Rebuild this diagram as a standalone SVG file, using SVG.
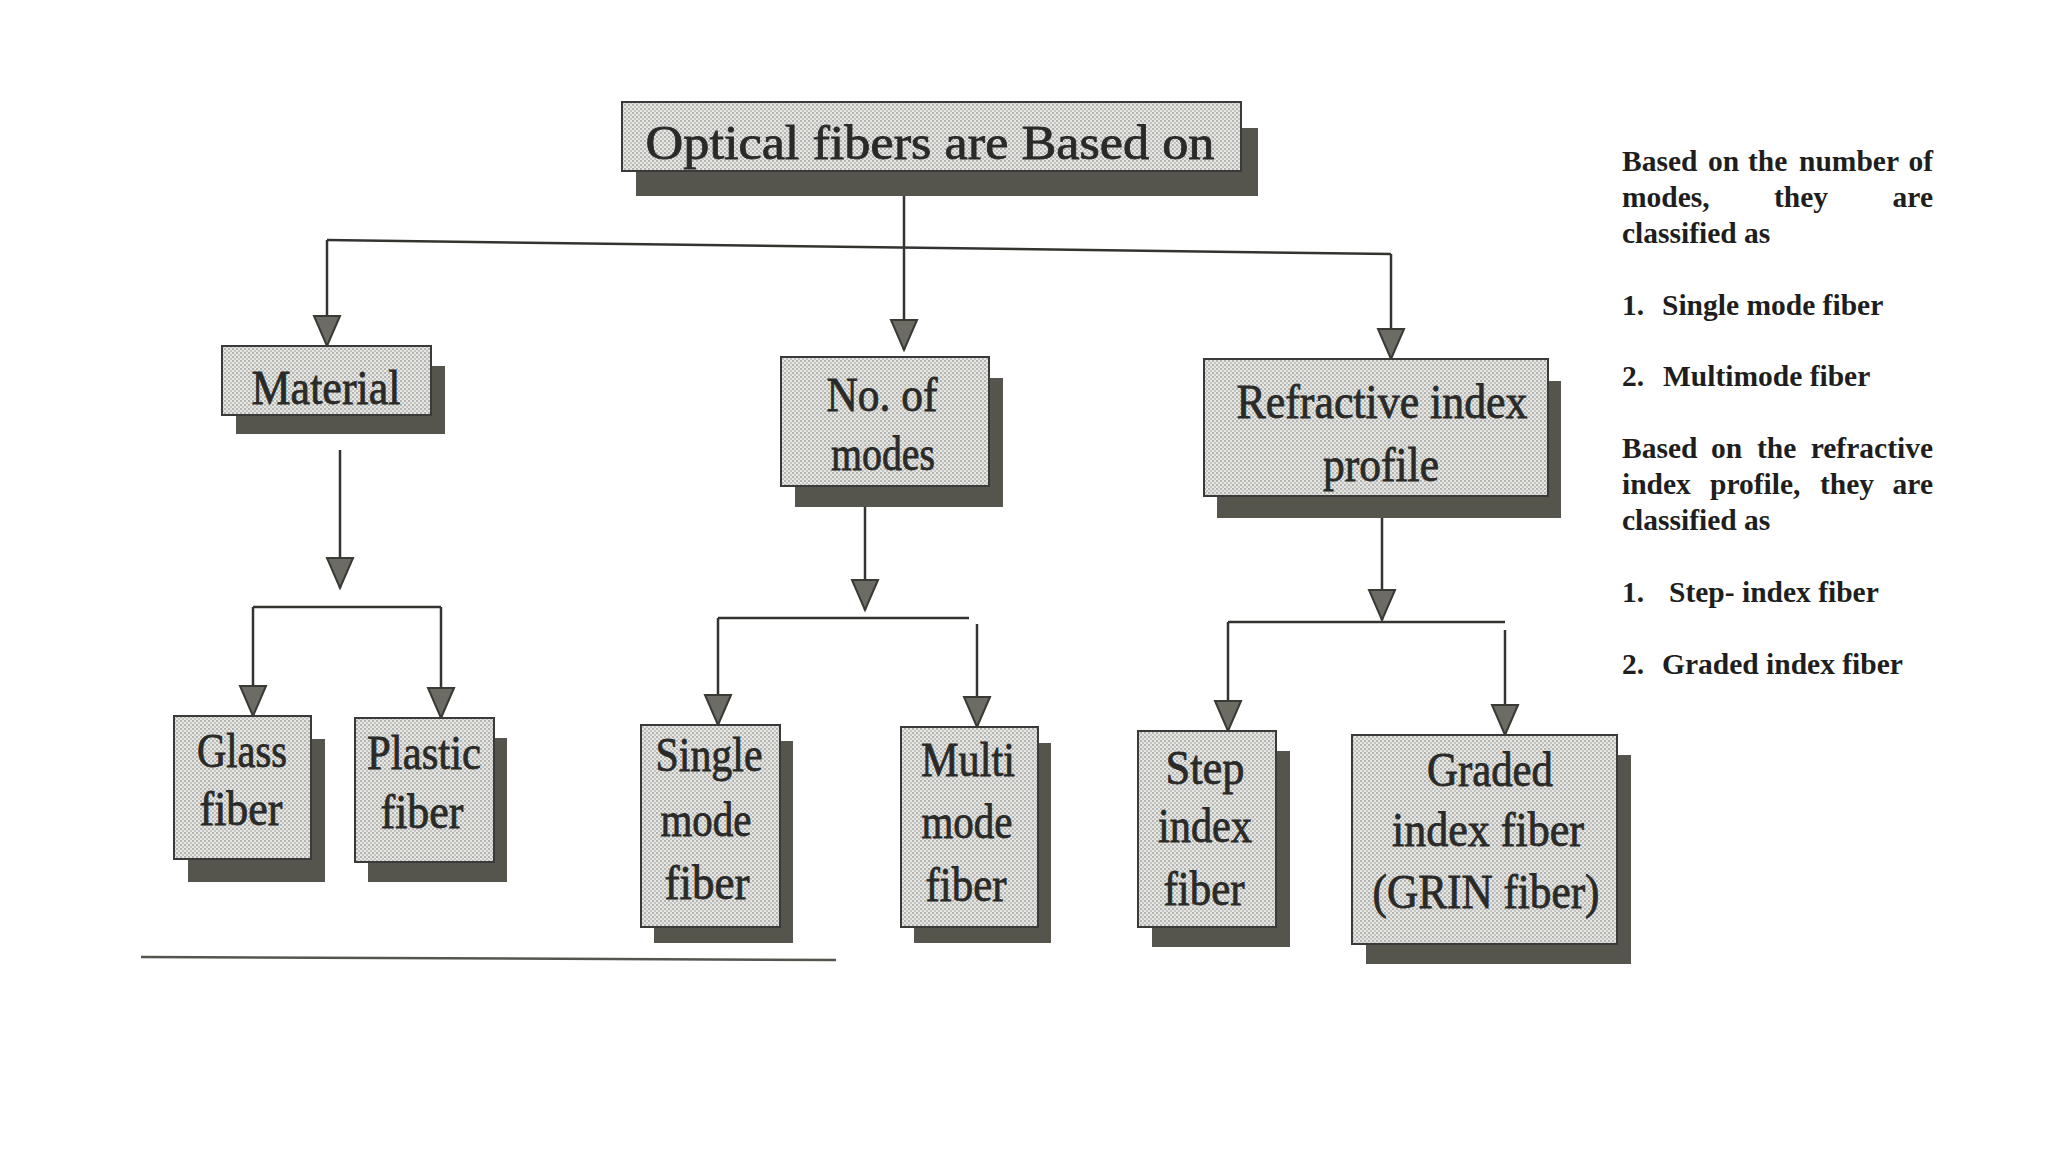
<svg xmlns="http://www.w3.org/2000/svg" width="2048" height="1152" viewBox="0 0 2048 1152">
<defs>
<pattern id="dots" width="4" height="4" patternUnits="userSpaceOnUse">
<rect width="4" height="4" fill="#e6e6e4"/>
<circle cx="1" cy="1" r="0.9" fill="#9c9c98"/>
<circle cx="3" cy="3" r="0.9" fill="#b4b4b0"/>
</pattern>
<marker id="ah" markerUnits="userSpaceOnUse" markerWidth="32" markerHeight="28" refX="30" refY="13" orient="auto" overflow="visible">
<path d="M0,0 L30,13 L0,26 Z" fill="#6c6c64" stroke="#3a3a35" stroke-width="2" stroke-linejoin="miter"/>
</marker>
</defs>
<style>
.sh{fill:#55554d}
.bx{fill:url(#dots);stroke:#3a3a3a;stroke-width:2}
.bt{font-family:"Liberation Serif","Times New Roman",serif;font-size:48px;fill:#2a2a28;stroke:#2a2a28;stroke-width:0.8;text-anchor:middle}
.ln{fill:none;stroke:#333330;stroke-width:2.5}
.ar{fill:none;stroke:#333330;stroke-width:2.5;marker-end:url(#ah)}
.rt{font-family:"Liberation Serif","Times New Roman",serif;font-size:29.5px;font-weight:bold;fill:#1e1e1e}
.re{text-anchor:end}
</style>
<rect width="2048" height="1152" fill="#ffffff"/>

<g id="connectors">
<path class="ar" d="M904,171 L904,350"/>
<path class="ln" d="M327,240 L1391,254"/>
<path class="ar" d="M327,240 L327,346"/>
<path class="ar" d="M1391,254 L1391,359"/>
<path class="ar" d="M340,450 L340,588"/>
<path class="ln" d="M253,607 L441,607"/>
<path class="ar" d="M253,607 L253,716"/>
<path class="ar" d="M441,607 L441,718"/>
<path class="ar" d="M865,507 L865,610"/>
<path class="ln" d="M718,618 L969,618"/>
<path class="ar" d="M718,618 L718,725"/>
<path class="ar" d="M977,624 L977,727"/>
<path class="ar" d="M1382,518 L1382,620"/>
<path class="ln" d="M1228,622 L1505,622"/>
<path class="ar" d="M1228,622 L1228,731"/>
<path class="ar" d="M1505,630 L1505,735"/>
<path d="M141,957 L836,960" stroke="#555550" stroke-width="2.5" fill="none"/>
</g>

<g id="n-top">
<rect class="sh" x="636" y="128" width="622" height="68"/>
<rect class="bx" x="622" y="102" width="619" height="69"/>
<text class="bt" x="930" y="159" font-size="62" textLength="569" lengthAdjust="spacingAndGlyphs">Optical fibers are Based on</text>
</g>

<g id="n-material">
<rect class="sh" x="236" y="366" width="209" height="68"/>
<rect class="bx" x="222" y="346" width="209" height="69"/>
<text class="bt" x="326" y="404" textLength="149" lengthAdjust="spacingAndGlyphs">Material</text>
</g>

<g id="n-modes">
<rect class="sh" x="795" y="378" width="208" height="129"/>
<rect class="bx" x="781" y="357" width="208" height="129"/>
<text class="bt" x="882" y="411" textLength="111" lengthAdjust="spacingAndGlyphs">No. of</text>
<text class="bt" x="883" y="470" textLength="104" lengthAdjust="spacingAndGlyphs">modes</text>
</g>

<g id="n-refractive">
<rect class="sh" x="1217" y="381" width="344" height="137"/>
<rect class="bx" x="1204" y="359" width="344" height="137"/>
<text class="bt" x="1382" y="418" textLength="291" lengthAdjust="spacingAndGlyphs">Refractive index</text>
<text class="bt" x="1381" y="481" textLength="116" lengthAdjust="spacingAndGlyphs">profile</text>
</g>

<g id="n-glass">
<rect class="sh" x="188" y="739" width="137" height="143"/>
<rect class="bx" x="174" y="716" width="137" height="143"/>
<text class="bt" x="242" y="767" textLength="90" lengthAdjust="spacingAndGlyphs">Glass</text>
<text class="bt" x="241" y="825" textLength="83" lengthAdjust="spacingAndGlyphs">fiber</text>
</g>

<g id="n-plastic">
<rect class="sh" x="368" y="738" width="139" height="144"/>
<rect class="bx" x="355" y="718" width="139" height="144"/>
<text class="bt" x="424" y="769" textLength="114" lengthAdjust="spacingAndGlyphs">Plastic</text>
<text class="bt" x="422" y="828" textLength="83" lengthAdjust="spacingAndGlyphs">fiber</text>
</g>

<g id="n-single">
<rect class="sh" x="654" y="741" width="139" height="202"/>
<rect class="bx" x="641" y="725" width="139" height="202"/>
<text class="bt" x="709" y="771" textLength="107" lengthAdjust="spacingAndGlyphs">Single</text>
<text class="bt" x="706" y="836" textLength="91" lengthAdjust="spacingAndGlyphs">mode</text>
<text class="bt" x="707" y="899" textLength="85" lengthAdjust="spacingAndGlyphs">fiber</text>
</g>

<g id="n-multi">
<rect class="sh" x="914" y="743" width="137" height="200"/>
<rect class="bx" x="901" y="727" width="137" height="200"/>
<text class="bt" x="968" y="776" textLength="94" lengthAdjust="spacingAndGlyphs">Multi</text>
<text class="bt" x="967" y="838" textLength="91" lengthAdjust="spacingAndGlyphs">mode</text>
<text class="bt" x="966" y="901" textLength="81" lengthAdjust="spacingAndGlyphs">fiber</text>
</g>

<g id="n-step">
<rect class="sh" x="1152" y="751" width="138" height="196"/>
<rect class="bx" x="1138" y="731" width="138" height="196"/>
<text class="bt" x="1205" y="784" textLength="79" lengthAdjust="spacingAndGlyphs">Step</text>
<text class="bt" x="1205" y="842" textLength="94" lengthAdjust="spacingAndGlyphs">index</text>
<text class="bt" x="1204" y="905" textLength="81" lengthAdjust="spacingAndGlyphs">fiber</text>
</g>

<g id="n-graded">
<rect class="sh" x="1366" y="755" width="265" height="209"/>
<rect class="bx" x="1352" y="735" width="265" height="209"/>
<text class="bt" x="1490" y="786" textLength="126" lengthAdjust="spacingAndGlyphs">Graded</text>
<text class="bt" x="1488" y="846" textLength="192" lengthAdjust="spacingAndGlyphs">index fiber</text>
<text class="bt" x="1486" y="908" textLength="227" lengthAdjust="spacingAndGlyphs">(GRIN fiber)</text>
</g>

<g id="side-text">
<text class="rt" y="171"><tspan x="1622">Based</tspan><tspan x="1708">on</tspan><tspan x="1748">the</tspan><tspan x="1799">number</tspan></text>
<text class="rt re" x="1933" y="171">of</text>
<text class="rt" y="207"><tspan x="1622">modes,</tspan><tspan x="1774">they</tspan></text>
<text class="rt re" x="1933" y="207">are</text>
<text class="rt" x="1622" y="243">classified as</text>
<text class="rt" y="315"><tspan x="1622">1.</tspan><tspan x="1662">Single mode fiber</tspan></text>
<text class="rt" y="386"><tspan x="1622">2.</tspan><tspan x="1663">Multimode fiber</tspan></text>
<text class="rt" y="458"><tspan x="1622">Based</tspan><tspan x="1711">on</tspan><tspan x="1757">the</tspan></text>
<text class="rt re" x="1933" y="458">refractive</text>
<text class="rt" y="494"><tspan x="1622">index</tspan><tspan x="1710">profile,</tspan><tspan x="1820">they</tspan></text>
<text class="rt re" x="1933" y="494">are</text>
<text class="rt" x="1622" y="530">classified as</text>
<text class="rt" y="602"><tspan x="1622">1.</tspan><tspan x="1669">Step- index fiber</tspan></text>
<text class="rt" y="674"><tspan x="1622">2.</tspan><tspan x="1662">Graded index fiber</tspan></text>
</g>
</svg>
